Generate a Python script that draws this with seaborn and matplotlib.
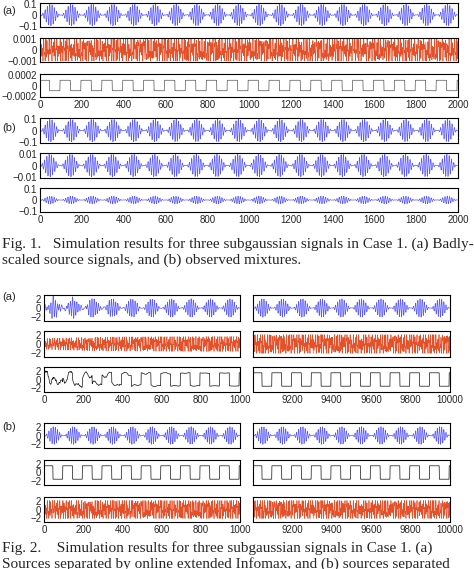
import numpy as np
import matplotlib
matplotlib.use("Agg")
import matplotlib.pyplot as plt
import seaborn as sns

sns.set_theme(style="white")
plt.rcParams['font.family'] = ['Liberation Sans', 'DejaVu Sans']

# signal parameters
n_top = 2000
env_period = 100.0
carrier_period = 11.0
sq_period = 100.0
top_amps = [0.1, 0.001, 0.0001]
mix_amps = [0.1, 0.01, 0.06]
top_yticks = [[-0.1, 0, 0.1], [-0.001, 0, 0.001], [-0.0002, 0, 0.0002]]
top_ylabels = [["−0.1", "0", "0.1"], ["−0.001", "0", "0.001"], ["−0.0002", "0", "0.0002"]]
mix_yticks = [[-0.1, 0, 0.1], [-0.01, 0, 0.01], [-0.1, 0, 0.1]]
mix_ylabels = [["−0.1", "0", "0.1"], ["−0.01", "0", "0.01"], ["−0.1", "0", "0.1"]]
top_xticks = list(range(0, 2001, 200))
left_xticks = [0, 200, 400, 600, 800, 1000]
right_xticks = [9200, 9400, 9600, 9800, 10000]
blue, red, black, gray = "#5a5aff", "#e4502a", "#111111", "#555555"

W, H = 474, 569
fig = plt.figure(figsize=(W/100, H/100), dpi=100)

def ax_px(x0, y0, x1, y1):
    return fig.add_axes([x0/W, 1-y1/H, (x1-x0)/W, (y1-y0)/H])

def am(t):
    return np.sin(np.pi*t/env_period)**2 * np.sin(2*np.pi*t/carrier_period)

def noise(t):
    return np.clip(0.7*np.sin(2*np.pi*t/5.3)+0.6*np.sin(2*np.pi*t/8.7+1)+0.5*np.sin(2*np.pi*t/13.9)*np.sign(np.sin(2*np.pi*t/env_period)), -1, 1)

def sq(t):
    return np.sign(np.sin(2*np.pi*t/sq_period + 0.3))

def style(ax, yt, yl, xl, xt=None, xlab=False):
    ax.set_xlim(*xl)
    ax.set_yticks(yt)
    ax.set_yticklabels(yl, fontsize=7)
    if xt is not None:
        ax.set_xticks(xt)
    if xlab:
        ax.tick_params(axis='x', labelsize=7)
    else:
        ax.set_xticklabels([])
    ax.tick_params(direction='in', length=2, pad=2)
    for s in ax.spines.values():
        s.set_color('black'); s.set_linewidth(0.8)

t = np.arange(n_top)
tops = [am(t)*top_amps[0], noise(t)*top_amps[1], sq(t)*top_amps[2]]
mixes = [am(t)*mix_amps[0], am(t+3)*mix_amps[1], am(t+1)*mix_amps[2]*0.6]
cols_top = [blue, red, gray]
rows = [(3, 27), (38, 62), (74, 97)]
for i, (y0, y1) in enumerate(rows):
    ax = ax_px(40, y0, 458, y1)
    sns.lineplot(x=t, y=tops[i], ax=ax, color=cols_top[i], lw=0.5)
    ax.set_ylim(-top_yticks[i][2]*1.1, top_yticks[i][2]*1.1)
    style(ax, top_yticks[i], top_ylabels[i], (0, 2000), top_xticks, i == 2)
rows = [(118, 143), (153, 178), (188, 212)]
for i, (y0, y1) in enumerate(rows):
    ax = ax_px(40, y0, 458, y1)
    sns.lineplot(x=t, y=mixes[i], ax=ax, color=blue, lw=0.5)
    ax.set_ylim(-mix_yticks[i][2]*1.1, mix_yticks[i][2]*1.1)
    style(ax, mix_yticks[i], mix_ylabels[i], (0, 2000), top_xticks, i == 2)
fig.text(2/W, 1-14/H, "(a)", fontsize=8)
fig.text(2/W, 1-131/H, "(b)", fontsize=8)
fig.text(2/W, 1-252/H, "Fig. 1.   Simulation results for three subgaussian signals in Case 1. (a) Badly-\nscaled source signals, and (b) observed mixtures.",
         fontsize=11, family=['Liberation Serif', 'DejaVu Serif'], va='center', linespacing=1.25)

# Figure 2
tl = np.arange(0, 1001)
tr = np.arange(9000, 10001)
conv = np.exp(-tl/250.0)
left_a = [am(tl)*2 + 0.8*conv*noise(tl*0.37), noise(tl)*1.6*(1-0.3*conv), np.clip(sq(tl)*1.5*(1-conv) + 1.8*conv*noise(tl*0.13) + 0.3*noise(tl*0.7)*conv, -2.6, 2.6)]
right_a = [am(tr)*2, noise(tr)*2, sq(tr)*1.5]
left_b = [am(tl)*2, sq(tl)*1.5, noise(tl)*2]
right_b = [am(tr)*2, sq(tr)*1.5, noise(tr)*2]
ca = [blue, red, black]
cb = [blue, black, red]
yt2 = [-2, 0, 2]; yl2 = ["−2", "0", "2"]
for block, (lefts, rights, cols, rws) in enumerate([
        (left_a, right_a, ca, [(295, 321), (331, 357), (367, 392)]),
        (left_b, right_b, cb, [(423, 448), (460, 485), (497, 522)])]):
    for i, (y0, y1) in enumerate(rws):
        ax = ax_px(44, y0, 240, y1)
        sns.lineplot(x=tl, y=lefts[i], ax=ax, color=cols[i], lw=0.5)
        ax.set_ylim(-2.8, 2.8)
        style(ax, yt2, yl2, (0, 1000), left_xticks, i == 2)
        ax2 = ax_px(253, y0, 450, y1)
        sns.lineplot(x=tr, y=rights[i], ax=ax2, color=cols[i], lw=0.5)
        ax2.set_ylim(-2.8, 2.8)
        style(ax2, yt2, yl2, (9000, 10000), right_xticks, i == 2)
        ax2.set_yticklabels([])
fig.text(2/W, 1-300/H, "(a)", fontsize=8)
fig.text(2/W, 1-430/H, "(b)", fontsize=8)
fig.text(2/W, 1-556/H, "Fig. 2.    Simulation results for three subgaussian signals in Case 1. (a)\nSources separated by online extended Infomax, and (b) sources separated",
         fontsize=11, family=['Liberation Serif', 'DejaVu Serif'], va='center', linespacing=1.25)

fig.savefig("out.png", dpi=100, facecolor='white')
